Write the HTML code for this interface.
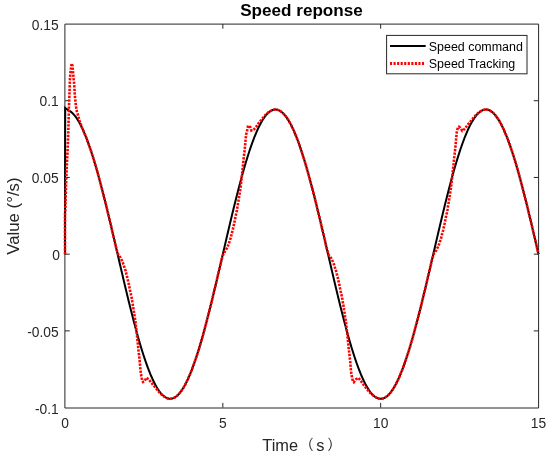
<!DOCTYPE html>
<html><head><meta charset="utf-8"><style>html,body{margin:0;padding:0;background:#fff;}svg{display:block;}</style></head>
<body><svg width="550" height="457" viewBox="0 0 550 457">
<rect width="550" height="457" fill="#fff"/>
<g fill="none" stroke="#262626" stroke-width="1">
<path d="M64.9,24.1 H538.6 V408 H64.9 Z"/>
<path d="M222.83,407.60 V402.86 M222.83,24.00 V28.74 M380.67,407.60 V402.86 M380.67,24.00 V28.74 M65.00,330.88 H69.74 M538.50,330.88 H533.76 M65.00,254.16 H69.74 M538.50,254.16 H533.76 M65.00,177.44 H69.74 M538.50,177.44 H533.76 M65.00,100.72 H69.74 M538.50,100.72 H533.76"/>
</g>
<path d="M65.00,254.16 L65.20,107.90 L68.00,110.00 L68.16,110.19 L68.47,110.32 L68.79,110.47 L69.10,110.63 L69.42,110.80 L69.73,110.99 L70.05,111.19 L70.37,111.40 L70.68,111.62 L71.00,111.86 L71.31,112.11 L71.63,112.37 L71.94,112.64 L72.26,112.93 L72.58,113.23 L72.89,113.54 L73.21,113.87 L73.52,114.20 L73.84,114.55 L74.15,114.91 L74.47,115.29 L74.79,115.67 L75.10,116.07 L75.42,116.48 L75.73,116.91 L76.05,117.34 L76.36,117.79 L76.68,118.25 L77.00,118.72 L77.31,119.21 L77.63,119.70 L77.94,120.21 L78.26,120.73 L78.57,121.26 L78.89,121.80 L79.20,122.36 L79.52,122.93 L79.84,123.50 L80.15,124.09 L80.47,124.70 L80.78,125.31 L81.10,125.93 L81.41,126.57 L81.73,127.22 L82.05,127.87 L82.36,128.54 L82.68,129.22 L82.99,129.92 L83.31,130.62 L83.62,131.33 L83.94,132.06 L84.26,132.79 L84.57,133.54 L84.89,134.30 L85.20,135.07 L85.52,135.84 L85.83,136.63 L86.15,137.43 L86.47,138.24 L86.78,139.06 L87.10,139.89 L87.41,140.73 L87.73,141.58 L88.04,142.44 L88.36,143.31 L88.67,144.19 L88.99,145.08 L89.31,145.98 L89.62,146.89 L89.94,147.81 L90.25,148.74 L90.57,149.68 L90.88,150.63 L91.20,151.58 L91.52,152.55 L91.83,153.52 L92.15,154.50 L92.46,155.50 L92.78,156.50 L93.09,157.51 L93.41,158.53 L93.73,159.55 L94.04,160.59 L94.36,161.63 L94.67,162.68 L94.99,163.74 L95.30,164.81 L95.62,165.88 L95.94,166.97 L96.25,168.06 L96.57,169.16 L96.88,170.26 L97.20,171.38 L97.51,172.50 L97.83,173.63 L98.15,174.76 L98.46,175.91 L98.78,177.06 L99.09,178.21 L99.41,179.38 L99.72,180.55 L100.04,181.72 L100.35,182.90 L100.67,184.09 L100.99,185.29 L101.30,186.49 L101.62,187.70 L101.93,188.91 L102.25,190.13 L102.56,191.36 L102.88,192.59 L103.20,193.82 L103.51,195.06 L103.83,196.31 L104.14,197.56 L104.46,198.82 L104.77,200.08 L105.09,201.35 L105.41,202.62 L105.72,203.89 L106.04,205.17 L106.35,206.46 L106.67,207.75 L106.98,209.04 L107.30,210.34 L107.62,211.64 L107.93,212.94 L108.25,214.25 L108.56,215.56 L108.88,216.88 L109.19,218.20 L109.51,219.52 L109.82,220.84 L110.14,222.17 L110.46,223.50 L110.77,224.83 L111.09,226.17 L111.40,227.51 L111.72,228.85 L112.03,230.19 L112.35,231.54 L112.67,232.88 L112.98,234.23 L113.30,235.58 L113.61,236.94 L113.93,238.29 L114.24,239.65 L114.56,241.00 L114.88,242.36 L115.19,243.72 L115.51,245.08 L115.82,246.44 L116.14,247.80 L116.45,249.16 L116.77,250.53 L117.09,251.89 L117.40,253.25 L117.72,254.61 L118.03,255.98 L118.35,257.34 L118.66,258.70 L118.98,260.06 L119.29,261.43 L119.61,262.79 L119.93,264.15 L120.24,265.51 L120.56,266.86 L120.87,268.22 L121.19,269.58 L121.50,270.93 L121.82,272.28 L122.14,273.64 L122.45,274.99 L122.77,276.33 L123.08,277.68 L123.40,279.02 L123.71,280.36 L124.03,281.70 L124.35,283.04 L124.66,284.38 L124.98,285.71 L125.29,287.04 L125.61,288.36 L125.92,289.68 L126.24,291.00 L126.55,292.32 L126.87,293.63 L127.19,294.94 L127.50,296.25 L127.82,297.55 L128.13,298.85 L128.45,300.14 L128.76,301.43 L129.08,302.72 L129.40,304.00 L129.71,305.28 L130.03,306.55 L130.34,307.82 L130.66,309.08 L130.97,310.34 L131.29,311.59 L131.61,312.84 L131.92,314.08 L132.24,315.32 L132.55,316.55 L132.87,317.78 L133.18,319.00 L133.50,320.22 L133.82,321.43 L134.13,322.63 L134.45,323.83 L134.76,325.02 L135.08,326.20 L135.39,327.38 L135.71,328.56 L136.03,329.72 L136.34,330.88 L136.66,332.03 L136.97,333.18 L137.29,334.31 L137.60,335.45 L137.92,336.57 L138.23,337.68 L138.55,338.79 L138.87,339.90 L139.18,340.99 L139.50,342.08 L139.81,343.15 L140.13,344.22 L140.44,345.29 L140.76,346.34 L141.08,347.39 L141.39,348.42 L141.71,349.45 L142.02,350.47 L142.34,351.49 L142.65,352.49 L142.97,353.49 L143.29,354.47 L143.60,355.45 L143.92,356.42 L144.23,357.38 L144.55,358.33 L144.86,359.27 L145.18,360.20 L145.50,361.12 L145.81,362.03 L146.13,362.94 L146.44,363.83 L146.76,364.71 L147.07,365.59 L147.39,366.45 L147.70,367.30 L148.02,368.15 L148.34,368.98 L148.65,369.81 L148.97,370.62 L149.28,371.42 L149.60,372.21 L149.91,373.00 L150.23,373.77 L150.55,374.53 L150.86,375.28 L151.18,376.02 L151.49,376.75 L151.81,377.46 L152.12,378.17 L152.44,378.87 L152.76,379.55 L153.07,380.22 L153.39,380.89 L153.70,381.54 L154.02,382.18 L154.33,382.80 L154.65,383.42 L154.97,384.03 L155.28,384.62 L155.60,385.20 L155.91,385.77 L156.23,386.33 L156.54,386.88 L156.86,387.42 L157.17,387.94 L157.49,388.45 L157.81,388.95 L158.12,389.44 L158.44,389.91 L158.75,390.38 L159.07,390.83 L159.38,391.27 L159.70,391.70 L160.02,392.11 L160.33,392.51 L160.65,392.90 L160.96,393.28 L161.28,393.65 L161.59,394.00 L161.91,394.34 L162.23,394.67 L162.54,394.99 L162.86,395.29 L163.17,395.58 L163.49,395.86 L163.80,396.13 L164.12,396.38 L164.44,396.62 L164.75,396.85 L165.07,397.06 L165.38,397.27 L165.70,397.46 L166.01,397.63 L166.33,397.80 L166.64,397.95 L166.96,398.09 L167.28,398.21 L167.59,398.33 L167.91,398.43 L168.22,398.52 L168.54,398.59 L168.85,398.65 L169.17,398.70 L169.49,398.74 L169.80,398.76 L170.12,398.77 L170.43,398.77 L170.75,398.76 L171.06,398.73 L171.38,398.69 L171.70,398.63 L172.01,398.57 L172.33,398.49 L172.64,398.40 L172.96,398.29 L173.27,398.17 L173.59,398.04 L173.91,397.90 L174.22,397.74 L174.54,397.58 L174.85,397.39 L175.17,397.20 L175.48,396.99 L175.80,396.77 L176.11,396.54 L176.43,396.30 L176.75,396.04 L177.06,395.77 L177.38,395.49 L177.69,395.19 L178.01,394.88 L178.32,394.56 L178.64,394.23 L178.96,393.89 L179.27,393.53 L179.59,393.16 L179.90,392.78 L180.22,392.38 L180.53,391.97 L180.85,391.55 L181.17,391.12 L181.48,390.68 L181.80,390.22 L182.11,389.76 L182.43,389.28 L182.74,388.79 L183.06,388.28 L183.38,387.77 L183.69,387.24 L184.01,386.70 L184.32,386.15 L184.64,385.58 L184.95,385.01 L185.27,384.42 L185.58,383.83 L185.90,383.22 L186.22,382.60 L186.53,381.96 L186.85,381.32 L187.16,380.67 L187.48,380.00 L187.79,379.32 L188.11,378.64 L188.43,377.94 L188.74,377.23 L189.06,376.50 L189.37,375.77 L189.69,375.03 L190.00,374.28 L190.32,373.51 L190.64,372.74 L190.95,371.95 L191.27,371.16 L191.58,370.35 L191.90,369.53 L192.21,368.71 L192.53,367.87 L192.84,367.02 L193.16,366.16 L193.48,365.30 L193.79,364.42 L194.11,363.53 L194.42,362.64 L194.74,361.73 L195.05,360.81 L195.37,359.89 L195.69,358.95 L196.00,358.01 L196.32,357.06 L196.63,356.10 L196.95,355.12 L197.26,354.14 L197.58,353.15 L197.90,352.16 L198.21,351.15 L198.53,350.14 L198.84,349.11 L199.16,348.08 L199.47,347.04 L199.79,345.99 L200.11,344.93 L200.42,343.87 L200.74,342.79 L201.05,341.71 L201.37,340.63 L201.68,339.53 L202.00,338.43 L202.31,337.31 L202.63,336.19 L202.95,335.07 L203.26,333.94 L203.58,332.80 L203.89,331.65 L204.21,330.49 L204.52,329.33 L204.84,328.17 L205.16,326.99 L205.47,325.81 L205.79,324.62 L206.10,323.43 L206.42,322.23 L206.73,321.02 L207.05,319.81 L207.37,318.60 L207.68,317.37 L208.00,316.14 L208.31,314.91 L208.63,313.67 L208.94,312.43 L209.26,311.18 L209.58,309.92 L209.89,308.66 L210.21,307.40 L210.52,306.13 L210.84,304.85 L211.15,303.57 L211.47,302.29 L211.78,301.00 L212.10,299.71 L212.42,298.42 L212.73,297.12 L213.05,295.81 L213.36,294.51 L213.68,293.20 L213.99,291.88 L214.31,290.56 L214.63,289.24 L214.94,287.92 L215.26,286.59 L215.57,285.26 L215.89,283.93 L216.20,282.60 L216.52,281.26 L216.84,279.92 L217.15,278.58 L217.47,277.23 L217.78,275.88 L218.10,274.54 L218.41,273.19 L218.73,271.83 L219.05,270.48 L219.36,269.13 L219.68,267.77 L219.99,266.41 L220.31,265.05 L220.62,263.69 L220.94,262.33 L221.26,260.97 L221.57,259.61 L221.89,258.25 L222.20,256.89 L222.52,255.52 L222.83,254.16 L223.15,252.80 L223.46,251.43 L223.78,250.07 L224.10,248.71 L224.41,247.35 L224.73,245.99 L225.04,244.63 L225.36,243.27 L225.67,241.91 L225.99,240.55 L226.31,239.19 L226.62,237.84 L226.94,236.49 L227.25,235.13 L227.57,233.78 L227.88,232.44 L228.20,231.09 L228.52,229.74 L228.83,228.40 L229.15,227.06 L229.46,225.72 L229.78,224.39 L230.09,223.06 L230.41,221.73 L230.72,220.40 L231.04,219.08 L231.36,217.76 L231.67,216.44 L231.99,215.12 L232.30,213.81 L232.62,212.51 L232.93,211.20 L233.25,209.90 L233.57,208.61 L233.88,207.32 L234.20,206.03 L234.51,204.75 L234.83,203.47 L235.14,202.19 L235.46,200.92 L235.78,199.66 L236.09,198.40 L236.41,197.14 L236.72,195.89 L237.04,194.65 L237.35,193.41 L237.67,192.18 L237.99,190.95 L238.30,189.72 L238.62,188.51 L238.93,187.30 L239.25,186.09 L239.56,184.89 L239.88,183.70 L240.19,182.51 L240.51,181.33 L240.83,180.15 L241.14,178.99 L241.46,177.83 L241.77,176.67 L242.09,175.52 L242.40,174.38 L242.72,173.25 L243.04,172.13 L243.35,171.01 L243.67,169.89 L243.98,168.79 L244.30,167.69 L244.61,166.61 L244.93,165.53 L245.25,164.45 L245.56,163.39 L245.88,162.33 L246.19,161.28 L246.51,160.24 L246.82,159.21 L247.14,158.18 L247.46,157.17 L247.77,156.16 L248.09,155.17 L248.40,154.18 L248.72,153.20 L249.03,152.22 L249.35,151.26 L249.66,150.31 L249.98,149.37 L250.30,148.43 L250.61,147.51 L250.93,146.59 L251.24,145.68 L251.56,144.79 L251.87,143.90 L252.19,143.02 L252.51,142.16 L252.82,141.30 L253.14,140.45 L253.45,139.61 L253.77,138.79 L254.08,137.97 L254.40,137.16 L254.72,136.37 L255.03,135.58 L255.35,134.81 L255.66,134.04 L255.98,133.29 L256.29,132.55 L256.61,131.82 L256.93,131.09 L257.24,130.38 L257.56,129.68 L257.87,129.00 L258.19,128.32 L258.50,127.65 L258.82,127.00 L259.13,126.36 L259.45,125.72 L259.77,125.10 L260.08,124.49 L260.40,123.90 L260.71,123.31 L261.03,122.74 L261.34,122.17 L261.66,121.62 L261.98,121.08 L262.29,120.55 L262.61,120.04 L262.92,119.53 L263.24,119.04 L263.55,118.56 L263.87,118.10 L264.19,117.64 L264.50,117.20 L264.82,116.77 L265.13,116.35 L265.45,115.94 L265.76,115.54 L266.08,115.16 L266.40,114.79 L266.71,114.43 L267.03,114.09 L267.34,113.76 L267.66,113.44 L267.97,113.13 L268.29,112.83 L268.61,112.55 L268.92,112.28 L269.24,112.02 L269.55,111.78 L269.87,111.55 L270.18,111.33 L270.50,111.12 L270.81,110.93 L271.13,110.74 L271.45,110.58 L271.76,110.42 L272.08,110.28 L272.39,110.15 L272.71,110.03 L273.02,109.92 L273.34,109.83 L273.66,109.75 L273.97,109.69 L274.29,109.63 L274.60,109.59 L274.92,109.56 L275.23,109.55 L275.55,109.55 L275.87,109.56 L276.18,109.58 L276.50,109.62 L276.81,109.67 L277.13,109.73 L277.44,109.80 L277.76,109.89 L278.07,109.99 L278.39,110.11 L278.71,110.23 L279.02,110.37 L279.34,110.52 L279.65,110.69 L279.97,110.86 L280.28,111.05 L280.60,111.26 L280.92,111.47 L281.23,111.70 L281.55,111.94 L281.86,112.19 L282.18,112.46 L282.49,112.74 L282.81,113.03 L283.13,113.33 L283.44,113.65 L283.76,113.98 L284.07,114.32 L284.39,114.67 L284.70,115.04 L285.02,115.42 L285.34,115.81 L285.65,116.21 L285.97,116.62 L286.28,117.05 L286.60,117.49 L286.91,117.94 L287.23,118.41 L287.54,118.88 L287.86,119.37 L288.18,119.87 L288.49,120.38 L288.81,120.90 L289.12,121.44 L289.44,121.99 L289.75,122.55 L290.07,123.12 L290.39,123.70 L290.70,124.29 L291.02,124.90 L291.33,125.52 L291.65,126.14 L291.96,126.78 L292.28,127.43 L292.60,128.10 L292.91,128.77 L293.23,129.45 L293.54,130.15 L293.86,130.86 L294.17,131.57 L294.49,132.30 L294.81,133.04 L295.12,133.79 L295.44,134.55 L295.75,135.32 L296.07,136.11 L296.38,136.90 L296.70,137.70 L297.01,138.51 L297.33,139.34 L297.65,140.17 L297.96,141.02 L298.28,141.87 L298.59,142.73 L298.91,143.61 L299.22,144.49 L299.54,145.38 L299.86,146.29 L300.17,147.20 L300.49,148.12 L300.80,149.05 L301.12,149.99 L301.43,150.94 L301.75,151.90 L302.07,152.87 L302.38,153.85 L302.70,154.83 L303.01,155.83 L303.33,156.83 L303.64,157.85 L303.96,158.87 L304.28,159.90 L304.59,160.93 L304.91,161.98 L305.22,163.03 L305.54,164.10 L305.85,165.17 L306.17,166.24 L306.49,167.33 L306.80,168.42 L307.12,169.53 L307.43,170.64 L307.75,171.75 L308.06,172.87 L308.38,174.01 L308.69,175.14 L309.01,176.29 L309.33,177.44 L309.64,178.60 L309.96,179.76 L310.27,180.94 L310.59,182.12 L310.90,183.30 L311.22,184.49 L311.54,185.69 L311.85,186.89 L312.17,188.10 L312.48,189.32 L312.80,190.54 L313.11,191.77 L313.43,193.00 L313.75,194.24 L314.06,195.48 L314.38,196.73 L314.69,197.98 L315.01,199.24 L315.32,200.50 L315.64,201.77 L315.96,203.04 L316.27,204.32 L316.59,205.60 L316.90,206.89 L317.22,208.18 L317.53,209.47 L317.85,210.77 L318.16,212.07 L318.48,213.38 L318.80,214.69 L319.11,216.00 L319.43,217.32 L319.74,218.64 L320.06,219.96 L320.37,221.28 L320.69,222.61 L321.01,223.94 L321.32,225.28 L321.64,226.62 L321.95,227.96 L322.27,229.30 L322.58,230.64 L322.90,231.99 L323.22,233.33 L323.53,234.68 L323.85,236.04 L324.16,237.39 L324.48,238.74 L324.79,240.10 L325.11,241.46 L325.43,242.81 L325.74,244.17 L326.06,245.53 L326.37,246.89 L326.69,248.26 L327.00,249.62 L327.32,250.98 L327.63,252.34 L327.95,253.71 L328.27,255.07 L328.58,256.43 L328.90,257.79 L329.21,259.16 L329.53,260.52 L329.84,261.88 L330.16,263.24 L330.48,264.60 L330.79,265.96 L331.11,267.32 L331.42,268.67 L331.74,270.03 L332.05,271.38 L332.37,272.74 L332.69,274.09 L333.00,275.44 L333.32,276.78 L333.63,278.13 L333.95,279.47 L334.26,280.81 L334.58,282.15 L334.90,283.49 L335.21,284.82 L335.53,286.15 L335.84,287.48 L336.16,288.80 L336.47,290.12 L336.79,291.44 L337.10,292.76 L337.42,294.07 L337.74,295.38 L338.05,296.68 L338.37,297.98 L338.68,299.28 L339.00,300.57 L339.31,301.86 L339.63,303.15 L339.95,304.43 L340.26,305.70 L340.58,306.97 L340.89,308.24 L341.21,309.50 L341.52,310.76 L341.84,312.01 L342.16,313.26 L342.47,314.50 L342.79,315.73 L343.10,316.96 L343.42,318.19 L343.73,319.41 L344.05,320.62 L344.36,321.83 L344.68,323.03 L345.00,324.23 L345.31,325.42 L345.63,326.60 L345.94,327.77 L346.26,328.94 L346.57,330.11 L346.89,331.26 L347.21,332.41 L347.52,333.56 L347.84,334.69 L348.15,335.82 L348.47,336.94 L348.78,338.06 L349.10,339.16 L349.42,340.26 L349.73,341.35 L350.05,342.44 L350.36,343.51 L350.68,344.58 L350.99,345.64 L351.31,346.69 L351.63,347.73 L351.94,348.77 L352.26,349.79 L352.57,350.81 L352.89,351.82 L353.20,352.82 L353.52,353.82 L353.84,354.80 L354.15,355.77 L354.47,356.74 L354.78,357.69 L355.10,358.64 L355.41,359.58 L355.73,360.51 L356.04,361.43 L356.36,362.34 L356.68,363.24 L356.99,364.13 L357.31,365.01 L357.62,365.88 L357.94,366.74 L358.25,367.59 L358.57,368.43 L358.89,369.26 L359.20,370.08 L359.52,370.89 L359.83,371.69 L360.15,372.48 L360.46,373.25 L360.78,374.02 L361.10,374.78 L361.41,375.53 L361.73,376.26 L362.04,376.99 L362.36,377.70 L362.67,378.40 L362.99,379.10 L363.31,379.78 L363.62,380.45 L363.94,381.10 L364.25,381.75 L364.57,382.39 L364.88,383.01 L365.20,383.62 L365.51,384.23 L365.83,384.82 L366.15,385.39 L366.46,385.96 L366.78,386.52 L367.09,387.06 L367.41,387.59 L367.72,388.11 L368.04,388.62 L368.36,389.11 L368.67,389.60 L368.99,390.07 L369.30,390.53 L369.62,390.98 L369.93,391.41 L370.25,391.84 L370.57,392.25 L370.88,392.65 L371.20,393.03 L371.51,393.41 L371.83,393.77 L372.14,394.12 L372.46,394.45 L372.77,394.78 L373.09,395.09 L373.41,395.39 L373.72,395.68 L374.04,395.95 L374.35,396.21 L374.67,396.46 L374.98,396.70 L375.30,396.92 L375.62,397.13 L375.93,397.33 L376.25,397.52 L376.56,397.69 L376.88,397.85 L377.19,398.00 L377.51,398.13 L377.83,398.25 L378.14,398.36 L378.46,398.46 L378.77,398.54 L379.09,398.61 L379.40,398.67 L379.72,398.72 L380.04,398.75 L380.35,398.77 L380.67,398.77 L380.98,398.77 L381.30,398.75 L381.61,398.72 L381.93,398.67 L382.25,398.61 L382.56,398.54 L382.88,398.46 L383.19,398.36 L383.51,398.25 L383.82,398.13 L384.14,398.00 L384.45,397.85 L384.77,397.69 L385.09,397.52 L385.40,397.33 L385.72,397.13 L386.03,396.92 L386.35,396.70 L386.66,396.46 L386.98,396.21 L387.30,395.95 L387.61,395.68 L387.93,395.39 L388.24,395.09 L388.56,394.78 L388.87,394.45 L389.19,394.12 L389.51,393.77 L389.82,393.41 L390.14,393.03 L390.45,392.65 L390.77,392.25 L391.08,391.84 L391.40,391.41 L391.71,390.98 L392.03,390.53 L392.35,390.07 L392.66,389.60 L392.98,389.11 L393.29,388.62 L393.61,388.11 L393.92,387.59 L394.24,387.06 L394.56,386.52 L394.87,385.96 L395.19,385.39 L395.50,384.82 L395.82,384.23 L396.13,383.62 L396.45,383.01 L396.77,382.39 L397.08,381.75 L397.40,381.10 L397.71,380.45 L398.03,379.78 L398.34,379.10 L398.66,378.40 L398.98,377.70 L399.29,376.99 L399.61,376.26 L399.92,375.53 L400.24,374.78 L400.55,374.02 L400.87,373.25 L401.19,372.48 L401.50,371.69 L401.82,370.89 L402.13,370.08 L402.45,369.26 L402.76,368.43 L403.08,367.59 L403.39,366.74 L403.71,365.88 L404.03,365.01 L404.34,364.13 L404.66,363.24 L404.97,362.34 L405.29,361.43 L405.60,360.51 L405.92,359.58 L406.24,358.64 L406.55,357.69 L406.87,356.74 L407.18,355.77 L407.50,354.80 L407.81,353.82 L408.13,352.82 L408.45,351.82 L408.76,350.81 L409.08,349.79 L409.39,348.77 L409.71,347.73 L410.02,346.69 L410.34,345.64 L410.65,344.58 L410.97,343.51 L411.29,342.44 L411.60,341.35 L411.92,340.26 L412.23,339.16 L412.55,338.06 L412.86,336.94 L413.18,335.82 L413.50,334.69 L413.81,333.56 L414.13,332.41 L414.44,331.26 L414.76,330.11 L415.07,328.94 L415.39,327.77 L415.71,326.60 L416.02,325.42 L416.34,324.23 L416.65,323.03 L416.97,321.83 L417.28,320.62 L417.60,319.41 L417.92,318.19 L418.23,316.96 L418.55,315.73 L418.86,314.50 L419.18,313.26 L419.49,312.01 L419.81,310.76 L420.12,309.50 L420.44,308.24 L420.76,306.97 L421.07,305.70 L421.39,304.43 L421.70,303.15 L422.02,301.86 L422.33,300.57 L422.65,299.28 L422.97,297.98 L423.28,296.68 L423.60,295.38 L423.91,294.07 L424.23,292.76 L424.54,291.44 L424.86,290.12 L425.18,288.80 L425.49,287.48 L425.81,286.15 L426.12,284.82 L426.44,283.49 L426.75,282.15 L427.07,280.81 L427.39,279.47 L427.70,278.13 L428.02,276.78 L428.33,275.44 L428.65,274.09 L428.96,272.74 L429.28,271.38 L429.60,270.03 L429.91,268.67 L430.23,267.32 L430.54,265.96 L430.86,264.60 L431.17,263.24 L431.49,261.88 L431.80,260.52 L432.12,259.16 L432.44,257.79 L432.75,256.43 L433.07,255.07 L433.38,253.71 L433.70,252.34 L434.01,250.98 L434.33,249.62 L434.65,248.26 L434.96,246.89 L435.28,245.53 L435.59,244.17 L435.91,242.81 L436.22,241.46 L436.54,240.10 L436.86,238.74 L437.17,237.39 L437.49,236.04 L437.80,234.68 L438.12,233.33 L438.43,231.99 L438.75,230.64 L439.06,229.30 L439.38,227.96 L439.70,226.62 L440.01,225.28 L440.33,223.94 L440.64,222.61 L440.96,221.28 L441.27,219.96 L441.59,218.64 L441.91,217.32 L442.22,216.00 L442.54,214.69 L442.85,213.38 L443.17,212.07 L443.48,210.77 L443.80,209.47 L444.12,208.18 L444.43,206.89 L444.75,205.60 L445.06,204.32 L445.38,203.04 L445.69,201.77 L446.01,200.50 L446.33,199.24 L446.64,197.98 L446.96,196.73 L447.27,195.48 L447.59,194.24 L447.90,193.00 L448.22,191.77 L448.54,190.54 L448.85,189.32 L449.17,188.10 L449.48,186.89 L449.80,185.69 L450.11,184.49 L450.43,183.30 L450.74,182.12 L451.06,180.94 L451.38,179.76 L451.69,178.60 L452.01,177.44 L452.32,176.29 L452.64,175.14 L452.95,174.01 L453.27,172.87 L453.59,171.75 L453.90,170.64 L454.22,169.53 L454.53,168.42 L454.85,167.33 L455.16,166.24 L455.48,165.17 L455.80,164.10 L456.11,163.03 L456.43,161.98 L456.74,160.93 L457.06,159.90 L457.37,158.87 L457.69,157.85 L458.00,156.83 L458.32,155.83 L458.64,154.83 L458.95,153.85 L459.27,152.87 L459.58,151.90 L459.90,150.94 L460.21,149.99 L460.53,149.05 L460.85,148.12 L461.16,147.20 L461.48,146.29 L461.79,145.38 L462.11,144.49 L462.42,143.61 L462.74,142.73 L463.06,141.87 L463.37,141.02 L463.69,140.17 L464.00,139.34 L464.32,138.51 L464.63,137.70 L464.95,136.90 L465.27,136.11 L465.58,135.32 L465.90,134.55 L466.21,133.79 L466.53,133.04 L466.84,132.30 L467.16,131.57 L467.48,130.86 L467.79,130.15 L468.11,129.45 L468.42,128.77 L468.74,128.10 L469.05,127.43 L469.37,126.78 L469.68,126.14 L470.00,125.52 L470.32,124.90 L470.63,124.29 L470.95,123.70 L471.26,123.12 L471.58,122.55 L471.89,121.99 L472.21,121.44 L472.53,120.90 L472.84,120.38 L473.16,119.87 L473.47,119.37 L473.79,118.88 L474.10,118.41 L474.42,117.94 L474.74,117.49 L475.05,117.05 L475.37,116.62 L475.68,116.21 L476.00,115.81 L476.31,115.42 L476.63,115.04 L476.94,114.67 L477.26,114.32 L477.58,113.98 L477.89,113.65 L478.21,113.33 L478.52,113.03 L478.84,112.74 L479.15,112.46 L479.47,112.19 L479.79,111.94 L480.10,111.70 L480.42,111.47 L480.73,111.26 L481.05,111.05 L481.36,110.86 L481.68,110.69 L482.00,110.52 L482.31,110.37 L482.63,110.23 L482.94,110.11 L483.26,109.99 L483.57,109.89 L483.89,109.80 L484.21,109.73 L484.52,109.67 L484.84,109.62 L485.15,109.58 L485.47,109.56 L485.78,109.55 L486.10,109.55 L486.41,109.56 L486.73,109.59 L487.05,109.63 L487.36,109.69 L487.68,109.75 L487.99,109.83 L488.31,109.92 L488.62,110.03 L488.94,110.15 L489.26,110.28 L489.57,110.42 L489.89,110.58 L490.20,110.74 L490.52,110.93 L490.83,111.12 L491.15,111.33 L491.47,111.55 L491.78,111.78 L492.10,112.02 L492.41,112.28 L492.73,112.55 L493.04,112.83 L493.36,113.13 L493.68,113.44 L493.99,113.76 L494.31,114.09 L494.62,114.43 L494.94,114.79 L495.25,115.16 L495.57,115.54 L495.89,115.94 L496.20,116.35 L496.52,116.77 L496.83,117.20 L497.15,117.64 L497.46,118.10 L497.78,118.56 L498.09,119.04 L498.41,119.53 L498.73,120.04 L499.04,120.55 L499.36,121.08 L499.67,121.62 L499.99,122.17 L500.30,122.74 L500.62,123.31 L500.94,123.90 L501.25,124.49 L501.57,125.10 L501.88,125.72 L502.20,126.36 L502.51,127.00 L502.83,127.65 L503.15,128.32 L503.46,129.00 L503.78,129.68 L504.09,130.38 L504.41,131.09 L504.72,131.82 L505.04,132.55 L505.35,133.29 L505.67,134.04 L505.99,134.81 L506.30,135.58 L506.62,136.37 L506.93,137.16 L507.25,137.97 L507.56,138.79 L507.88,139.61 L508.20,140.45 L508.51,141.30 L508.83,142.16 L509.14,143.02 L509.46,143.90 L509.77,144.79 L510.09,145.68 L510.41,146.59 L510.72,147.51 L511.04,148.43 L511.35,149.37 L511.67,150.31 L511.98,151.26 L512.30,152.22 L512.62,153.20 L512.93,154.18 L513.25,155.17 L513.56,156.16 L513.88,157.17 L514.19,158.18 L514.51,159.21 L514.83,160.24 L515.14,161.28 L515.46,162.33 L515.77,163.39 L516.09,164.45 L516.40,165.53 L516.72,166.61 L517.03,167.69 L517.35,168.79 L517.67,169.89 L517.98,171.01 L518.30,172.13 L518.61,173.25 L518.93,174.38 L519.24,175.52 L519.56,176.67 L519.88,177.83 L520.19,178.99 L520.51,180.15 L520.82,181.33 L521.14,182.51 L521.45,183.70 L521.77,184.89 L522.09,186.09 L522.40,187.30 L522.72,188.51 L523.03,189.72 L523.35,190.95 L523.66,192.18 L523.98,193.41 L524.30,194.65 L524.61,195.89 L524.93,197.14 L525.24,198.40 L525.56,199.66 L525.87,200.92 L526.19,202.19 L526.50,203.47 L526.82,204.75 L527.14,206.03 L527.45,207.32 L527.77,208.61 L528.08,209.90 L528.40,211.20 L528.71,212.51 L529.03,213.81 L529.35,215.12 L529.66,216.44 L529.98,217.76 L530.29,219.08 L530.61,220.40 L530.92,221.73 L531.24,223.06 L531.56,224.39 L531.87,225.72 L532.19,227.06 L532.50,228.40 L532.82,229.74 L533.13,231.09 L533.45,232.44 L533.76,233.78 L534.08,235.13 L534.40,236.49 L534.71,237.84 L535.03,239.19 L535.34,240.55 L535.66,241.91 L535.97,243.27 L536.29,244.63 L536.61,245.99 L536.92,247.35 L537.24,248.71 L537.55,250.07 L537.87,251.43 L538.18,252.80 L538.50,254.16" fill="none" stroke="#000" stroke-width="2" stroke-linejoin="miter"/>
<path d="M65.00,254.20 L65.00,215.00 L65.30,210.00 L66.30,177.00 L67.60,150.00 L68.20,135.00 L68.50,125.00 L68.80,112.00 L69.20,100.00 L69.60,90.00 L69.90,80.00 L70.30,74.00 L70.90,68.50 L71.70,63.40 L72.40,65.50 L72.90,70.00 L73.30,75.00 L73.60,78.80 L74.00,82.30 L74.30,86.00 L74.50,89.50 L74.70,93.00 L74.90,96.50 L75.30,100.20 L75.70,103.80 L76.10,107.30 L76.70,110.90 L77.70,114.20 L78.70,117.60 L79.70,121.10 L81.00,124.50 L81.16,126.05 L81.47,126.69 L81.79,127.34 L82.11,128.01 L82.43,128.68 L82.74,129.37 L83.06,130.07 L83.38,130.77 L83.69,131.49 L84.01,132.22 L84.33,132.97 L84.65,133.72 L84.96,134.48 L85.28,135.26 L85.60,136.04 L85.91,136.83 L86.23,137.64 L86.55,138.46 L86.87,139.28 L87.18,140.12 L87.50,140.97 L87.82,141.82 L88.13,142.69 L88.45,143.57 L88.77,144.45 L89.08,145.35 L89.40,146.26 L89.72,147.17 L90.04,148.10 L90.35,149.04 L90.67,149.98 L90.99,150.94 L91.30,151.90 L91.62,152.87 L91.94,153.85 L92.26,154.84 L92.57,155.84 L92.89,156.85 L93.21,157.87 L93.52,158.89 L93.84,159.93 L94.16,160.97 L94.47,162.02 L94.79,163.08 L95.11,164.15 L95.43,165.22 L95.74,166.31 L96.06,167.40 L96.38,168.50 L96.69,169.61 L97.01,170.72 L97.33,171.84 L97.65,172.97 L97.96,174.11 L98.28,175.25 L98.60,176.40 L98.91,177.56 L99.23,178.72 L99.55,179.90 L99.87,181.07 L100.18,182.26 L100.50,183.45 L100.82,184.65 L101.13,185.85 L101.45,187.06 L101.77,188.28 L102.08,189.50 L102.40,190.72 L102.72,191.96 L103.04,193.20 L103.35,194.44 L103.67,195.69 L103.99,196.94 L104.30,198.20 L104.62,199.47 L104.94,200.74 L105.26,202.01 L105.57,203.29 L105.89,204.58 L106.21,205.86 L106.52,207.16 L106.84,208.45 L107.16,209.76 L107.47,211.06 L107.79,212.37 L108.11,213.68 L108.43,215.00 L108.74,216.32 L109.06,217.64 L109.38,218.97 L109.69,220.30 L110.01,221.63 L110.33,222.96 L110.65,224.30 L110.96,225.64 L111.28,226.99 L111.60,228.33 L111.91,229.68 L112.23,231.03 L112.55,232.38 L112.87,233.74 L113.18,235.09 L113.50,236.45 L113.82,237.81 L114.13,239.17 L114.45,240.53 L114.77,241.90 L115.08,243.26 L115.40,244.63 L115.72,245.99 L116.04,247.36 L116.35,248.73 L117.30,251.70 L118.50,255.20 L120.50,257.80 L122.10,261.00 L123.50,264.40 L124.60,267.90 L125.70,271.10 L126.50,274.70 L127.40,278.00 L128.20,281.60 L129.00,285.00 L129.70,288.70 L130.40,292.10 L131.20,295.50 L131.90,299.10 L132.40,302.60 L133.10,306.20 L133.60,309.80 L134.20,313.30 L134.70,316.90 L135.30,320.30 L135.70,323.90 L136.10,327.50 L136.50,331.10 L136.90,334.70 L137.20,338.10 L137.60,341.80 L138.00,345.20 L138.30,348.80 L138.70,352.30 L139.20,356.00 L139.50,359.40 L139.90,362.90 L140.20,366.90 L140.50,370.20 L140.90,373.80 L141.60,377.10 L142.10,380.60 L143.00,382.00 L144.60,381.00 L146.40,377.70 L149.00,379.60 L151.30,382.60 L153.70,385.60 L156.00,388.30 L158.20,391.10 L160.70,393.90 L163.40,396.10 L164.35,396.55 L164.66,396.79 L164.98,397.01 L165.30,397.21 L165.61,397.41 L165.93,397.59 L166.24,397.75 L166.56,397.91 L166.88,398.05 L167.19,398.18 L167.51,398.30 L167.82,398.40 L168.14,398.49 L168.46,398.57 L168.77,398.64 L169.09,398.69 L169.41,398.73 L169.72,398.76 L170.04,398.77 L170.35,398.77 L170.67,398.76 L170.99,398.74 L171.30,398.70 L171.62,398.65 L171.94,398.58 L172.25,398.51 L172.57,398.42 L172.88,398.32 L173.20,398.20 L173.52,398.08 L173.83,397.93 L174.15,397.78 L174.46,397.62 L174.78,397.44 L175.10,397.24 L175.41,397.04 L175.73,396.82 L176.05,396.59 L176.36,396.35 L176.68,396.10 L176.99,395.83 L177.31,395.55 L177.63,395.25 L177.94,394.95 L178.26,394.63 L178.58,394.30 L178.89,393.96 L179.21,393.60 L179.52,393.23 L179.84,392.85 L180.16,392.46 L180.47,392.05 L180.79,391.64 L181.10,391.21 L181.42,390.77 L181.74,390.31 L182.05,389.85 L182.37,389.37 L182.69,388.88 L183.00,388.37 L183.32,387.86 L183.63,387.33 L183.95,386.80 L184.27,386.25 L184.58,385.68 L184.90,385.11 L185.21,384.53 L185.53,383.93 L185.85,383.32 L186.16,382.70 L186.48,382.07 L186.80,381.43 L187.11,380.77 L187.43,380.11 L187.74,379.43 L188.06,378.74 L188.38,378.05 L188.69,377.34 L189.01,376.61 L189.33,375.88 L189.64,375.14 L189.96,374.39 L190.27,373.62 L190.59,372.85 L190.91,372.06 L191.22,371.27 L191.54,370.46 L191.85,369.65 L192.17,368.82 L192.49,367.98 L192.80,367.13 L193.12,366.28 L193.44,365.41 L193.75,364.53 L194.07,363.65 L194.38,362.75 L194.70,361.84 L195.02,360.93 L195.33,360.00 L195.65,359.07 L195.96,358.12 L196.28,357.17 L196.60,356.21 L196.91,355.23 L197.23,354.25 L197.55,353.26 L197.86,352.26 L198.18,351.26 L198.49,350.24 L198.81,349.22 L199.13,348.18 L199.44,347.14 L199.76,346.09 L200.08,345.03 L200.39,343.97 L200.71,342.89 L201.02,341.81 L201.34,340.72 L201.66,339.63 L201.97,338.52 L202.29,337.41 L202.60,336.29 L202.92,335.16 L203.24,334.03 L203.55,332.88 L203.87,331.74 L204.19,330.58 L204.50,329.42 L204.82,328.25 L205.13,327.07 L205.45,325.89 L205.77,324.70 L206.08,323.51 L206.40,322.31 L206.71,321.10 L207.03,319.89 L207.35,318.67 L207.66,317.44 L207.98,316.21 L208.30,314.98 L208.61,313.74 L208.93,312.49 L209.24,311.24 L209.56,309.98 L209.88,308.72 L210.19,307.45 L210.51,306.18 L210.83,304.90 L211.14,303.62 L211.46,302.34 L211.77,301.05 L212.09,299.76 L212.41,298.46 L212.72,297.16 L213.04,295.85 L213.35,294.54 L213.67,293.23 L213.99,291.91 L214.30,290.59 L214.62,289.27 L214.94,287.95 L215.25,286.62 L215.57,285.28 L215.88,283.95 L216.20,282.61 L216.52,281.27 L216.83,279.93 L217.15,278.59 L217.46,277.24 L217.78,275.89 L218.10,274.54 L218.41,273.19 L218.73,271.83 L219.05,270.48 L219.36,269.12 L219.68,267.76 L219.99,266.40 L220.31,265.04 L220.63,263.68 L220.94,262.32 L221.26,260.95 L221.58,259.59 L222.52,256.62 L223.72,253.12 L225.72,250.52 L227.32,247.32 L228.72,243.92 L229.82,240.42 L230.92,237.22 L231.72,233.62 L232.62,230.32 L233.42,226.72 L234.22,223.32 L234.92,219.62 L235.62,216.22 L236.42,212.82 L237.12,209.22 L237.62,205.72 L238.32,202.12 L238.82,198.52 L239.42,195.02 L239.92,191.42 L240.52,188.02 L240.92,184.42 L241.32,180.82 L241.72,177.22 L242.12,173.62 L242.42,170.22 L242.82,166.52 L243.22,163.12 L243.52,159.52 L243.92,156.02 L244.42,152.32 L244.72,148.92 L245.12,145.42 L245.42,141.42 L245.72,138.12 L246.12,134.52 L247.02,131.32 L247.42,128.02 L248.22,125.62 L250.42,127.32 L251.42,130.52 L253.92,129.42 L256.32,126.72 L258.92,122.72 L261.22,120.02 L263.42,117.22 L265.92,114.42 L268.62,112.22 L269.57,111.77 L269.89,111.53 L270.20,111.31 L270.52,111.11 L270.83,110.91 L271.15,110.73 L271.47,110.57 L271.78,110.41 L272.10,110.27 L272.41,110.14 L272.73,110.02 L273.05,109.92 L273.36,109.83 L273.68,109.75 L274.00,109.68 L274.31,109.63 L274.63,109.59 L274.94,109.56 L275.26,109.55 L275.58,109.55 L275.89,109.56 L276.21,109.58 L276.53,109.62 L276.84,109.67 L277.16,109.74 L277.47,109.81 L277.79,109.90 L278.11,110.00 L278.42,110.12 L278.74,110.24 L279.05,110.39 L279.37,110.54 L279.69,110.70 L280.00,110.88 L280.32,111.08 L280.64,111.28 L280.95,111.50 L281.27,111.73 L281.58,111.97 L281.90,112.22 L282.22,112.49 L282.53,112.77 L282.85,113.07 L283.16,113.37 L283.48,113.69 L283.80,114.02 L284.11,114.36 L284.43,114.72 L284.75,115.09 L285.06,115.47 L285.38,115.86 L285.69,116.27 L286.01,116.68 L286.33,117.11 L286.64,117.55 L286.96,118.01 L287.28,118.47 L287.59,118.95 L287.91,119.44 L288.22,119.95 L288.54,120.46 L288.86,120.99 L289.17,121.52 L289.49,122.07 L289.80,122.64 L290.12,123.21 L290.44,123.79 L290.75,124.39 L291.07,125.00 L291.39,125.62 L291.70,126.25 L292.02,126.89 L292.33,127.55 L292.65,128.21 L292.97,128.89 L293.28,129.58 L293.60,130.27 L293.91,130.98 L294.23,131.71 L294.55,132.44 L294.86,133.18 L295.18,133.93 L295.50,134.70 L295.81,135.47 L296.13,136.26 L296.44,137.05 L296.76,137.86 L297.08,138.67 L297.39,139.50 L297.71,140.34 L298.03,141.19 L298.34,142.04 L298.66,142.91 L298.97,143.79 L299.29,144.67 L299.61,145.57 L299.92,146.48 L300.24,147.39 L300.55,148.32 L300.87,149.25 L301.19,150.20 L301.50,151.15 L301.82,152.11 L302.14,153.09 L302.45,154.07 L302.77,155.06 L303.08,156.06 L303.40,157.06 L303.72,158.08 L304.03,159.10 L304.35,160.14 L304.66,161.18 L304.98,162.23 L305.30,163.29 L305.61,164.35 L305.93,165.43 L306.25,166.51 L306.56,167.60 L306.88,168.69 L307.19,169.80 L307.51,170.91 L307.83,172.03 L308.14,173.16 L308.46,174.29 L308.78,175.44 L309.09,176.58 L309.41,177.74 L309.72,178.90 L310.04,180.07 L310.36,181.25 L310.67,182.43 L310.99,183.62 L311.30,184.81 L311.62,186.01 L311.94,187.22 L312.25,188.43 L312.57,189.65 L312.89,190.88 L313.20,192.11 L313.52,193.34 L313.83,194.58 L314.15,195.83 L314.47,197.08 L314.78,198.34 L315.10,199.60 L315.42,200.87 L315.73,202.14 L316.05,203.42 L316.36,204.70 L316.68,205.98 L317.00,207.27 L317.31,208.56 L317.63,209.86 L317.94,211.16 L318.26,212.47 L318.58,213.78 L318.89,215.09 L319.21,216.41 L319.53,217.73 L319.84,219.05 L320.16,220.37 L320.47,221.70 L320.79,223.04 L321.11,224.37 L321.42,225.71 L321.74,227.05 L322.05,228.39 L322.37,229.73 L322.69,231.08 L323.00,232.43 L323.32,233.78 L323.64,235.13 L323.95,236.49 L324.27,237.84 L324.58,239.20 L324.90,240.56 L325.22,241.92 L325.53,243.28 L325.85,244.64 L326.17,246.00 L326.48,247.37 L326.80,248.73 L327.74,251.70 L328.94,255.20 L330.94,257.80 L332.54,261.00 L333.94,264.40 L335.04,267.90 L336.14,271.10 L336.94,274.70 L337.84,278.00 L338.64,281.60 L339.44,285.00 L340.14,288.70 L340.84,292.10 L341.64,295.50 L342.34,299.10 L342.84,302.60 L343.54,306.20 L344.04,309.80 L344.64,313.30 L345.14,316.90 L345.74,320.30 L346.14,323.90 L346.54,327.50 L346.94,331.10 L347.34,334.70 L347.64,338.10 L348.04,341.80 L348.44,345.20 L348.74,348.80 L349.14,352.30 L349.64,356.00 L349.94,359.40 L350.34,362.90 L350.64,366.90 L350.94,370.20 L351.34,373.80 L351.64,375.10 L352.14,378.70 L353.24,381.50 L353.84,382.20 L355.94,379.30 L358.64,378.00 L360.84,380.90 L363.04,383.90 L364.14,385.60 L366.44,388.30 L368.64,391.10 L371.14,393.90 L373.84,396.10 L374.79,396.55 L375.11,396.79 L375.42,397.01 L375.74,397.21 L376.06,397.41 L376.37,397.59 L376.69,397.75 L377.00,397.91 L377.32,398.05 L377.64,398.18 L377.95,398.30 L378.27,398.40 L378.59,398.49 L378.90,398.57 L379.22,398.64 L379.53,398.69 L379.85,398.73 L380.17,398.76 L380.48,398.77 L380.80,398.77 L381.12,398.76 L381.43,398.74 L381.75,398.70 L382.06,398.65 L382.38,398.58 L382.70,398.51 L383.01,398.42 L383.33,398.32 L383.64,398.20 L383.96,398.08 L384.28,397.93 L384.59,397.78 L384.91,397.62 L385.23,397.44 L385.54,397.24 L385.86,397.04 L386.17,396.82 L386.49,396.59 L386.81,396.35 L387.12,396.10 L387.44,395.83 L387.75,395.55 L388.07,395.25 L388.39,394.95 L388.70,394.63 L389.02,394.30 L389.34,393.96 L389.65,393.60 L389.97,393.23 L390.28,392.85 L390.60,392.46 L390.92,392.05 L391.23,391.64 L391.55,391.21 L391.87,390.77 L392.18,390.31 L392.50,389.85 L392.81,389.37 L393.13,388.88 L393.45,388.37 L393.76,387.86 L394.08,387.33 L394.39,386.80 L394.71,386.25 L395.03,385.68 L395.34,385.11 L395.66,384.53 L395.98,383.93 L396.29,383.32 L396.61,382.70 L396.92,382.07 L397.24,381.43 L397.56,380.77 L397.87,380.11 L398.19,379.43 L398.50,378.74 L398.82,378.05 L399.14,377.34 L399.45,376.61 L399.77,375.88 L400.09,375.14 L400.40,374.39 L400.72,373.62 L401.03,372.85 L401.35,372.06 L401.67,371.27 L401.98,370.46 L402.30,369.65 L402.62,368.82 L402.93,367.98 L403.25,367.13 L403.56,366.28 L403.88,365.41 L404.20,364.53 L404.51,363.65 L404.83,362.75 L405.14,361.84 L405.46,360.93 L405.78,360.00 L406.09,359.07 L406.41,358.12 L406.73,357.17 L407.04,356.21 L407.36,355.23 L407.67,354.25 L407.99,353.26 L408.31,352.26 L408.62,351.26 L408.94,350.24 L409.25,349.22 L409.57,348.18 L409.89,347.14 L410.20,346.09 L410.52,345.03 L410.84,343.97 L411.15,342.89 L411.47,341.81 L411.78,340.72 L412.10,339.63 L412.42,338.52 L412.73,337.41 L413.05,336.29 L413.37,335.16 L413.68,334.03 L414.00,332.88 L414.31,331.74 L414.63,330.58 L414.95,329.42 L415.26,328.25 L415.58,327.07 L415.89,325.89 L416.21,324.70 L416.53,323.51 L416.84,322.31 L417.16,321.10 L417.48,319.89 L417.79,318.67 L418.11,317.44 L418.42,316.21 L418.74,314.98 L419.06,313.74 L419.37,312.49 L419.69,311.24 L420.00,309.98 L420.32,308.72 L420.64,307.45 L420.95,306.18 L421.27,304.90 L421.59,303.62 L421.90,302.34 L422.22,301.05 L422.53,299.76 L422.85,298.46 L423.17,297.16 L423.48,295.85 L423.80,294.54 L424.12,293.23 L424.43,291.91 L424.75,290.59 L425.06,289.27 L425.38,287.95 L425.70,286.62 L426.01,285.28 L426.33,283.95 L426.64,282.61 L426.96,281.27 L427.28,279.93 L427.59,278.59 L427.91,277.24 L428.23,275.89 L428.54,274.54 L428.86,273.19 L429.17,271.83 L429.49,270.48 L429.81,269.12 L430.12,267.76 L430.44,266.40 L430.75,265.04 L431.07,263.68 L431.39,262.32 L431.70,260.95 L432.02,259.59 L432.97,256.62 L434.17,253.12 L436.17,250.52 L437.77,247.32 L439.17,243.92 L440.27,240.42 L441.37,237.22 L442.17,233.62 L443.07,230.32 L443.87,226.72 L444.67,223.32 L445.37,219.62 L446.07,216.22 L446.87,212.82 L447.57,209.22 L448.07,205.72 L448.77,202.12 L449.27,198.52 L449.87,195.02 L450.37,191.42 L450.97,188.02 L451.37,184.42 L451.77,180.82 L452.17,177.22 L452.57,173.62 L452.87,170.22 L453.27,166.52 L453.67,163.12 L453.97,159.52 L454.37,156.02 L454.87,152.32 L455.17,148.92 L455.57,145.42 L455.87,141.42 L456.17,138.12 L456.57,134.52 L456.87,131.42 L457.87,127.62 L458.87,126.72 L460.37,127.92 L462.27,130.92 L465.27,128.42 L467.17,125.42 L469.37,122.72 L471.67,120.02 L473.87,117.22 L476.37,114.42 L479.07,112.22 L480.01,111.77 L480.33,111.53 L480.65,111.31 L480.96,111.11 L481.28,110.91 L481.59,110.73 L481.91,110.57 L482.23,110.41 L482.54,110.27 L482.86,110.14 L483.18,110.02 L483.49,109.92 L483.81,109.83 L484.12,109.75 L484.44,109.68 L484.76,109.63 L485.07,109.59 L485.39,109.56 L485.70,109.55 L486.02,109.55 L486.34,109.56 L486.65,109.58 L486.97,109.62 L487.28,109.67 L487.60,109.74 L487.92,109.81 L488.23,109.90 L488.55,110.00 L488.87,110.12 L489.18,110.24 L489.50,110.38 L489.81,110.54 L490.13,110.70 L490.45,110.88 L490.76,111.07 L491.08,111.28 L491.39,111.50 L491.71,111.73 L492.03,111.97 L492.34,112.22 L492.66,112.49 L492.98,112.77 L493.29,113.06 L493.61,113.37 L493.92,113.69 L494.24,114.02 L494.56,114.36 L494.87,114.72 L495.19,115.08 L495.50,115.47 L495.82,115.86 L496.14,116.26 L496.45,116.68 L496.77,117.11 L497.09,117.55 L497.40,118.01 L497.72,118.47 L498.03,118.95 L498.35,119.44 L498.67,119.94 L498.98,120.46 L499.30,120.98 L499.61,121.52 L499.93,122.07 L500.25,122.63 L500.56,123.20 L500.88,123.79 L501.20,124.39 L501.51,124.99 L501.83,125.61 L502.14,126.24 L502.46,126.89 L502.78,127.54 L503.09,128.21 L503.41,128.88 L503.72,129.57 L504.04,130.27 L504.36,130.98 L504.67,131.70 L504.99,132.43 L505.31,133.17 L505.62,133.93 L505.94,134.69 L506.25,135.46 L506.57,136.25 L506.89,137.04 L507.20,137.85 L507.52,138.67 L507.83,139.49 L508.15,140.33 L508.47,141.18 L508.78,142.03 L509.10,142.90 L509.41,143.78 L509.73,144.66 L510.05,145.56 L510.36,146.47 L510.68,147.38 L511.00,148.31 L511.31,149.24 L511.63,150.19 L511.94,151.14 L512.26,152.10 L512.58,153.08 L512.89,154.06 L513.21,155.05 L513.52,156.04 L513.84,157.05 L514.16,158.07 L514.47,159.09 L514.79,160.12 L515.11,161.16 L515.42,162.21 L515.74,163.27 L516.05,164.34 L516.37,165.41 L516.69,166.49 L517.00,167.58 L517.32,168.68 L517.63,169.78 L517.95,170.90 L518.27,172.02 L518.58,173.14 L518.90,174.28 L519.22,175.42 L519.53,176.57 L519.85,177.72 L520.16,178.89 L520.48,180.05 L520.80,181.23 L521.11,182.41 L521.43,183.60 L521.74,184.79 L522.06,186.00 L522.38,187.20 L522.69,188.42 L523.01,189.63 L523.33,190.86 L523.64,192.09 L523.96,193.32 L524.27,194.57 L524.59,195.81 L524.91,197.06 L525.22,198.32 L525.54,199.58 L525.85,200.85 L526.17,202.12 L526.49,203.39 L526.80,204.68 L527.12,205.96 L527.44,207.25 L527.75,208.54 L528.07,209.84 L528.38,211.14 L528.70,212.45 L529.02,213.75 L529.33,215.07 L529.65,216.38 L529.96,217.70 L530.28,219.03 L530.60,220.35 L530.91,221.68 L531.23,223.01 L531.54,224.35 L531.86,225.68 L532.18,227.02 L532.49,228.36 L532.81,229.71 L533.13,231.05 L533.44,232.40 L533.76,233.75 L534.07,235.11 L534.39,236.46 L534.71,237.81 L535.02,239.17 L535.34,240.53 L535.65,241.89 L535.97,243.25 L536.29,244.61 L536.60,245.97 L536.92,247.34 L537.24,248.70 L537.55,250.07 L537.87,251.43 L538.18,252.80 L538.50,254.16" fill="none" stroke="#f00" stroke-width="2.6" stroke-dasharray="2.3 1.25"/>
<g font-family="Liberation Sans, Arial, sans-serif" font-size="13.8" fill="#262626"><text x="65.00" y="427.60" text-anchor="middle">0</text><text x="222.83" y="427.60" text-anchor="middle">5</text><text x="380.67" y="427.60" text-anchor="middle">10</text><text x="538.50" y="427.60" text-anchor="middle">15</text><text x="58.70" y="414.10" text-anchor="end">-0.1</text><text x="58.70" y="336.68" text-anchor="end">-0.05</text><text x="59.90" y="259.96" text-anchor="end">0</text><text x="58.70" y="183.24" text-anchor="end">0.05</text><text x="58.70" y="105.92" text-anchor="end">0.1</text><text x="58.70" y="29.80" text-anchor="end">0.15</text></g>
<text x="301.5" y="16.2" text-anchor="middle" font-family="Liberation Sans, Arial, sans-serif" font-weight="bold" font-size="17.1" fill="#000">Speed reponse</text>
<g fill="#262626" font-family="'Liberation Sans', 'Noto Sans CJK SC', sans-serif"><text x="262.3" y="451" font-size="16.4">Time</text><text x="299.4" y="449.2" font-size="14">（</text><text x="316.3" y="451" font-size="16.4">s</text><text x="327.6" y="449.2" font-size="14">）</text></g>
<text transform="translate(18.8,216.1) rotate(-90)" text-anchor="middle" font-family="Liberation Sans, Arial, sans-serif" font-size="16.8" fill="#262626">Value (°/s)</text>
<g>
<rect x="386.6" y="35.4" width="140.4" height="38.4" fill="#fff" stroke="#262626" stroke-width="1"/>
<path d="M390,46 H425.7" stroke="#000" stroke-width="2"/>
<path d="M390,63.5 H424.5" stroke="#f00" stroke-width="2.8" stroke-dasharray="2.1 1.45"/>
<g font-family="Liberation Sans, Arial, sans-serif" font-size="12.45" fill="#000">
<text x="428.8" y="50.6">Speed command</text>
<text x="428.8" y="68">Speed Tracking</text>
</g>
</g>
</svg></body></html>
